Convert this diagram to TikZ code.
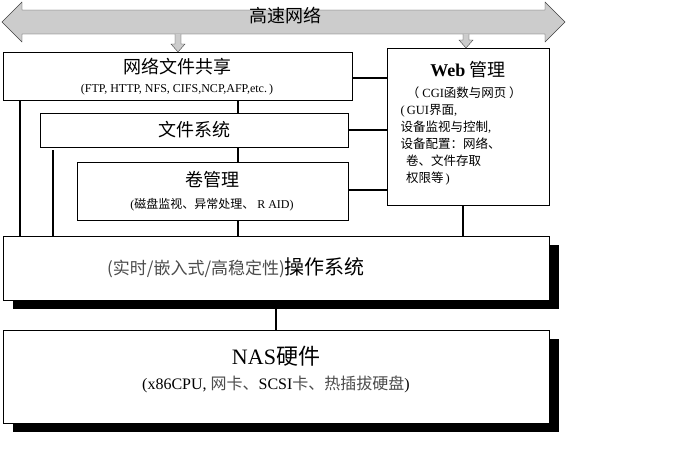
\documentclass[tikz,border=0pt]{standalone}
\usepackage{fontspec}
\setmainfont{Liberation Serif}
\newfontfamily\cjk{Noto Sans CJK SC}
\usetikzlibrary{shadows}
\begin{document}
\begin{tikzpicture}[x=1pt,y=-1pt,
  box/.style={draw,thick,fill=white,inner sep=0},
  sbox/.style={box,drop shadow={shadow xshift=10pt,shadow yshift=-9pt,fill=black,opacity=1}},
  link/.style={line width=2pt},
  garrow/.style={fill=gray!40,draw=gray!50!black},
  big/.style={font=\cjk\fontsize{18}{20}\selectfont},
  small/.style={font=\fontsize{12}{14}\selectfont}]
\useasboundingbox (0,0) rectangle (696,448);
% network arrow
\draw[garrow] (2,22) -- (22,2) -- (22,10) -- (545,10) -- (545,2) -- (565,22) -- (545,42) -- (545,34) -- (22,34) -- (22,42) -- cycle;
% boxes
\node[box,minimum width=349pt,minimum height=48pt] (nfs) at (177.5,76) {};
\node[big] at (177,67) {网络文件共享};
\node[small] at (177,90) {(FTP, HTTP, NFS, CIFS,NCP,AFP,etc.\,)};
\node[box,minimum width=162pt,minimum height=157pt] (web) at (468,126.5) {};
\node[align=left,font=\fontsize{12.5}{17}\selectfont,anchor=north west] at (397,83)
{\ \ {\cjk（} CGI{\cjk 函数与网页 ）}\\({\cjk\,}GUI{\cjk 界面}, \\{\cjk 设备监视与控制},\\{\cjk 设备配置：网络、}\\{\cjk \ \ 卷、文件存取}\\{\cjk \ \ 权限等}\,)};
\node[font=\fontsize{18}{20}\selectfont] at (468,70) {\textbf{Web} {\cjk 管理}};
\node[box,minimum width=308pt,minimum height=34pt,big] (fs) at (194,130) {文件系统};
\node[box,minimum width=271pt,minimum height=58pt] (vol) at (212.5,191) {};
\node[big] at (212,180) {卷管理};
\node[small] at (212,205) {({\cjk 磁盘监视、异常处理、} R AID)};
\node[sbox,minimum width=546pt,minimum height=64pt] (os) at (276,268) {};
\node[font=\cjk\fontsize{20}{22}\selectfont] at (236,268) {{\fontsize{17}{19}\selectfont\color{black!70}(实时/嵌入式/高稳定性)}操作系统};
\node[sbox,minimum width=546pt,minimum height=93pt] (nas) at (276,376.5) {};
\node[font=\fontsize{22}{24}\selectfont] at (276,356) {NAS{\cjk 硬件}};
\node[font=\fontsize{16}{18}\selectfont] at (276,384) {(x86CPU, {\cjk\color{black!70}网卡、}SCSI{\cjk\color{black!70}卡、热插拔硬盘})};
% down arrows
\draw[garrow] (175,34) -- (175,44) -- (171,44) -- (178,52) -- (185,44) -- (181,44) -- (181,34);
\draw[garrow] (463,34) -- (463,40) -- (459,40) -- (466,48) -- (473,40) -- (469,40) -- (469,34);
\node[big] (net) at (285,16) {高速网络};
% links
\draw[link] (nfs.south -| 20,0) -- (os.north -| 20,0);
\draw[link] (fs.south -| 53,0) ++(0,3) -- (os.north -| 53,0);
\draw[link] (nfs.south -| 238,0) -- (fs.north -| 238,0);
\draw[link] (fs.south -| 238,0) -- (vol.north -| 238,0);
\draw[link] (vol.south -| 238,0) -- (os.north -| 238,0);
\draw[link] (web.south -| 463,0) -- (os.north -| 463,0);
\draw[link] (nfs.east |- 0,78) -- (web.west |- 0,78);
\draw[link] (fs.east |- 0,130) -- (web.west |- 0,130);
\draw[link] (vol.east |- 0,190) -- (web.west |- 0,190);
\draw[link] (os.south -| 276,0) -- (nas.north -| 276,0);
\end{tikzpicture}
\end{document}
